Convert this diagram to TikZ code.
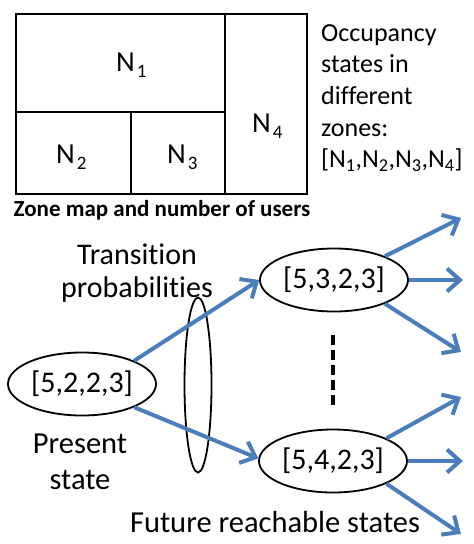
\documentclass[tikz,border=0pt]{standalone}
\usepackage{fontspec}
\setmainfont{Carlito}[Ligatures=NoCommon]
\usetikzlibrary{shapes.geometric,arrows.meta}
\definecolor{arrowblue}{RGB}{74,126,187}
\newcommand{\Nsub}[1]{N\textsubscript{#1}}
\newcommand{\Nbig}[1]{N\kern2pt\raisebox{-6pt}{\fontsize{19}{20}\selectfont #1}}
\tikzset{
  zone/.style={draw=black, line width=2.4pt},
  zonelabel/.style={font=\fontsize{29}{32}\selectfont, inner sep=0pt, anchor=base west},
  statenode/.style={draw=black, line width=1.8pt, ellipse, minimum width=148pt, minimum height=63pt, inner sep=0pt, font=\fontsize{30}{34}\selectfont},
  label/.style={font=\fontsize{30.5}{36}\selectfont, align=center, inner sep=0pt},
  flow/.style={draw=arrowblue, line width=4pt, -{Straight Barb[length=13pt,width=23pt,line width=4pt]}},
}
\begin{document}
\begin{tikzpicture}[x=1pt,y=-1pt]
\useasboundingbox (0,0) rectangle (474,544);
% zone map
\draw[zone] (16,14) rectangle (307,194);
\draw[zone] (16,112) -- (225,112);
\draw[zone] (225,14) -- (225,194);
\draw[zone] (131,112) -- (131,194);
\node[zonelabel] (n1) at (116,71) {\Nbig{1}};
\node[zonelabel] (n2) at (56,163) {\Nbig{2}};
\node[zonelabel] (n3) at (167,163) {\Nbig{3}};
\node[zonelabel] (n4) at (252,132) {\Nbig{4}};
\node[font=\bfseries\fontsize{23}{26}\selectfont, inner sep=0pt] (title) at (162,210) {Zone map and number of users};
\node[font=\fontsize{26}{31.7}\selectfont, align=left, inner sep=0pt, anchor=north west] (occ) at (321,24) {Occupancy\\states in\\different\\zones:\\{}[\Nsub{1},\Nsub{2},\Nsub{3},\Nsub{4}]};
% states
\node[statenode] (pres) at (82,384) {[5,2,2,3]};
\node[statenode] (top) at (334,280) {[5,3,2,3]};
\node[statenode] (bot) at (333,461) {[5,4,2,3]};
\node[draw=black, line width=1.8pt, ellipse, minimum width=27pt, minimum height=175pt, inner sep=0pt] (tp) at (198,385) {};
\node[label, font=\fontsize{30}{33}\selectfont] (trans) at (137,273) {Transition\\probabilities};
\node[label] (present) at (80,462) {Present\\state};
\node[label] (future) at (275,522) {Future reachable states};
% dashed
\coordinate (d1) at (333,335);
\coordinate (d2) at (333,405);
\draw[line width=3.6pt, dash pattern=on 10pt off 5pt] (d1) -- (d2);
% arrows
\draw[flow] (pres.24) -- (top.west);
\draw[flow] (pres.-24) -- (bot.178);
\coordinate (t1) at (461,218);
\coordinate (t2) at (463,280);
\coordinate (t3) at (461,352);
\coordinate (b1) at (461,397);
\coordinate (b2) at (463,461);
\coordinate (b3) at (461,534);
\draw[flow] (top.25) -- (t1);
\draw[flow] (top.east) -- (t2);
\draw[flow] (top.-25) -- (t3);
\draw[flow] (bot.23) -- (b1);
\draw[flow] (bot.east) -- (b2);
\draw[flow] (bot.-23) -- (b3);
\end{tikzpicture}
\end{document}
